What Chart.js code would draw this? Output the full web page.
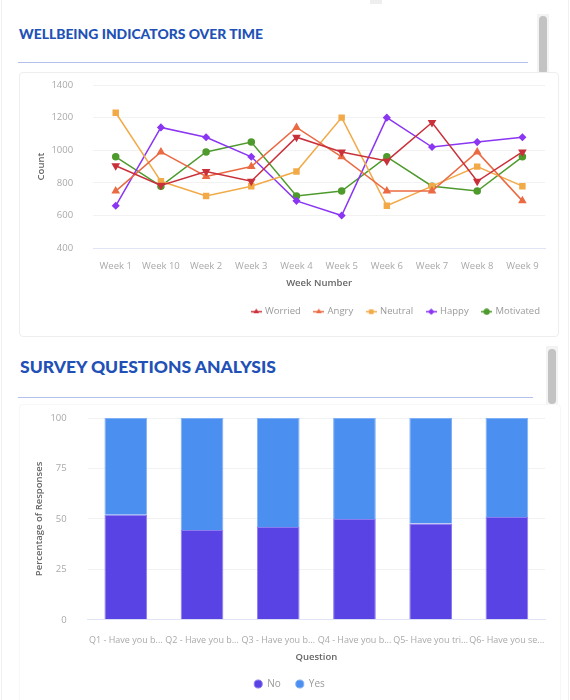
<!DOCTYPE html>
<html>
<head>
<meta charset="utf-8">
<script src="https://cdn.jsdelivr.net/npm/chart.js@4.4.0/dist/chart.umd.min.js"></script>
<style>
  html, body { margin: 0; padding: 0; background: #fff; }
  body { width: 570px; height: 700px; position: relative; overflow: hidden; font-family: 'Lato', sans-serif; }
  .frame { position: absolute; left: 1px; top: 0; width: 566px; height: 700px; border-left: 1px solid #f0f0f0; border-right: 1px solid #f0f0f0; }
  .title { position: absolute; color: #2150b6; font-weight: 900; white-space: nowrap; }
  .t1 { left: 19px; top: 25px; font-size: 13.9px; line-height: 18px; }
  .t2 { left: 20px; top: 356px; font-size: 17.5px; line-height: 22px; }
  .rule { position: absolute; height: 1px; background: #b3c1ec; }
  .track { position: absolute; width: 12px; background: #f3f3f3; }
  .thumb { position: absolute; width: 8px; background: #c3c3c3; border-radius: 4px; }
  .card { position: absolute; background: #fff; border: 1px solid #eeeeee; border-radius: 4px; }
  .nub { position: absolute; left: 370px; top: 0; width: 12px; height: 4px; background: #eee; }
</style>
</head>
<body>
<div class="frame"></div>
<div class="nub"></div>

<div class="title t1">WELLBEING INDICATORS OVER TIME</div>
<div class="rule" style="left:18px; top:62px; width:510px;"></div>
<div class="track" style="left:537px; top:14px; height:62px;"></div>
<div class="thumb" style="left:539px; top:16px; height:58px;"></div>
<div class="card" style="left:19px; top:72px; width:538px; height:263px;">
  <canvas id="lineChart"></canvas>
</div>

<div class="title t2">SURVEY QUESTIONS ANALYSIS</div>
<div class="rule" style="left:18px; top:397px; width:515px;"></div>
<div class="track" style="left:546px; top:346px; height:60px;"></div>
<div class="thumb" style="left:548px; top:349px; height:55px;"></div>
<div class="card" style="left:19px; top:404px; width:540px; height:300px; border-color:#f7f7f7;">
  <canvas id="barChart"></canvas>
</div>

<script>
// weekly counts (order as shown on the x axis)
const weeks = ['Week 1', 'Week 10', 'Week 2', 'Week 3', 'Week 4', 'Week 5', 'Week 6', 'Week 7', 'Week 8', 'Week 9'];
const worried = [905, 785, 870, 810, 1080, 990, 935, 1170, 810, 990];
const angry = [750, 990, 840, 900, 1140, 960, 750, 750, 990, 690];
const neutral = [1230, 810, 720, 780, 870, 1200, 660, 780, 900, 780];
const happy = [660, 1140, 1080, 960, 690, 600, 1200, 1020, 1050, 1080];
const motivated = [960, 780, 990, 1050, 720, 750, 960, 780, 750, 960];
const countTicks = [400, 600, 800, 1000, 1200, 1400];

// survey answers in percent
const questions = ['Q1 - Have you b...', 'Q2 - Have you b...', 'Q3 - Have you b...', 'Q4 - Have you b...', 'Q5- Have you tri...', 'Q6- Have you se...'];
const noPct = [52, 44.5, 46, 50, 47.7, 51];
const yesPct = [48, 55.5, 54, 50, 52.3, 49];
const pctTicks = [0, 25, 50, 75, 100];

Chart.defaults.font.family = "'Open Sans', sans-serif";
Chart.defaults.font.size = 9.5;
Chart.defaults.color = '#a9a9a9';

const lineSeries = [
  { label: 'Worried', data: worried, color: '#c9303a', style: 'triangle', rot: 180, r: 3.5 },
  { label: 'Angry', data: angry, color: '#ea6a43', style: 'triangle', rot: 0, r: 3.5 },
  { label: 'Neutral', data: neutral, color: '#f2aa48', style: 'rect', rot: 0, r: 3.5 },
  { label: 'Happy', data: happy, color: '#8a36f2', style: 'rectRot', rot: 0, r: 3 },
  { label: 'Motivated', data: motivated, color: '#4e9a2d', style: 'circle', rot: 0, r: 3 },
];

// little "line + marker" icons for the legend
function makeIcon(s) {
  const c = document.createElement('canvas');
  c.width = 11; c.height = 7;
  const ctx = c.getContext('2d');
  ctx.strokeStyle = s.color;
  ctx.lineWidth = 1.5;
  ctx.beginPath();
  ctx.moveTo(0, 3.5); ctx.lineTo(11, 3.5);
  ctx.stroke();
  ctx.fillStyle = s.color;
  Chart.helpers.drawPoint(ctx, { pointStyle: s.style, rotation: s.rot, radius: 3, borderWidth: 0 }, 5.5, 3.5);
  ctx.fill();
  return c;
}

new Chart(document.getElementById('lineChart'), {
  type: 'line',
  data: {
    labels: weeks,
    datasets: lineSeries.map(function (s) {
      return {
        label: s.label,
        data: s.data,
        borderColor: s.color,
        backgroundColor: s.color,
        borderWidth: 1.5,
        pointStyle: s.style,
        rotation: s.rot,
        pointRadius: s.r,
        pointHoverRadius: s.r + 1,
        tension: 0,
      };
    }),
  },
  options: {
    responsive: true,
    maintainAspectRatio: false,
    animation: false,
    layout: { padding: { top: 12, right: 4, left: 16, bottom: 9.5 } },
    scales: {
      x: {
        offset: true,
        grid: { display: false },
        border: { color: '#dfe5f5' },
        ticks: { color: '#a9a9a9', padding: 4.5, maxRotation: 0, autoSkip: false },
        title: { display: true, text: 'Week Number', color: '#666', font: { weight: '600' }, padding: { top: 0.5, bottom: 4.5 } },
        afterFit: function (scale) {
          scale.paddingRight = 13;
        },
      },
      y: {
        min: 400,
        max: 1400,
        afterBuildTicks: function (axis) {
          axis.ticks = countTicks.map((v) => ({ value: v }));
        },
        grid: { color: '#f2f2f2', tickLength: 20, tickColor: 'rgba(0,0,0,0)' },
        border: { display: false },
        ticks: { color: '#a9a9a9', padding: 0, callback: (v) => String(v) },
        title: { display: true, text: 'Count', color: '#666', font: { weight: '600' }, padding: { top: 0, bottom: 4 } },
      },
    },
    plugins: {
      legend: {
        position: 'bottom',
        align: 'end',
        labels: {
          usePointStyle: true,
          pointStyleWidth: 8,
          boxHeight: 7,
          padding: 14,
          color: '#999',
          generateLabels: function (chart) {
            const items = Chart.defaults.plugins.legend.labels.generateLabels(chart);
            items.forEach(function (it, i) {
              it.pointStyle = makeIcon(lineSeries[i]);
            });
            return items;
          },
        },
      },
    },
  },
});

new Chart(document.getElementById('barChart'), {
  type: 'bar',
  data: {
    labels: questions,
    datasets: [
      { label: 'No', data: noPct, backgroundColor: '#5a43e4', borderColor: '#8a7bf0', borderWidth: 1 },
      { label: 'Yes', data: yesPct, backgroundColor: '#4b8ff1', borderColor: '#7fb0f5', borderWidth: 1 },
    ],
  },
  options: {
    responsive: true,
    maintainAspectRatio: false,
    animation: false,
    layout: { padding: { top: 13, right: 15, left: 14, bottom: 6 } },
    datasets: { bar: { barPercentage: 0.7, categoryPercentage: 0.8 } },
    scales: {
      x: {
        stacked: true,
        grid: { display: false, tickLength: 10 },
        border: { color: '#dfe5f5' },
        ticks: { color: '#a9a9a9', font: { size: 9 }, padding: 5.5, maxRotation: 0, autoSkip: false },
        title: { display: true, text: 'Question', color: '#666', font: { weight: '600' }, padding: { top: 0, bottom: 1 } },
      },
      y: {
        stacked: true,
        min: 0,
        max: 100,
        afterBuildTicks: function (axis) {
          axis.ticks = pctTicks.map((v) => ({ value: v }));
        },
        grid: { color: '#f2f2f2', tickLength: 21, tickColor: 'rgba(0,0,0,0)' },
        border: { display: false },
        ticks: { color: '#a9a9a9', padding: 0 },
        title: { display: true, text: 'Percentage of Responses', color: '#666', font: { weight: '600' }, padding: { top: 0, bottom: 5 } },
      },
    },
    plugins: {
      legend: {
        position: 'bottom',
        labels: {
          usePointStyle: true,
          pointStyle: 'circle',
          boxWidth: 8,
          boxHeight: 5.7,
          padding: 15,
          color: '#999',
          font: { size: 10 },
        },
      },
    },
  },
});
</script>
</body>
</html>
